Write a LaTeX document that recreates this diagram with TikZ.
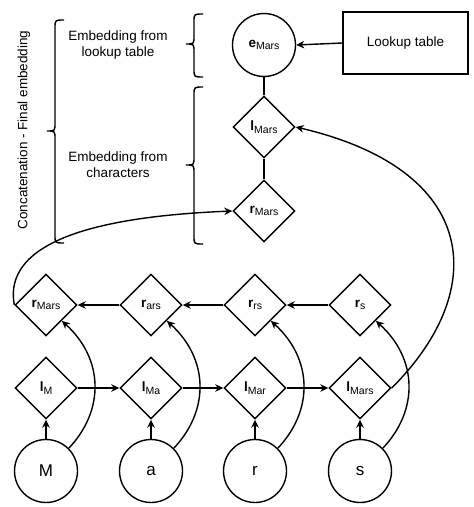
\documentclass[tikz,border=0pt]{standalone}
\usepackage{fontspec}
\setmainfont{Liberation Sans}
\usetikzlibrary{shapes.geometric,arrows.meta}
\newcommand{\lbl}[2]{{\fontsize{13.5bp}{15bp}\selectfont\bfseries #1}{\raisebox{-0.45ex}{\fontsize{10.5bp}{12bp}\selectfont #2}}}
\tikzset{
  ln/.style={line width=1.4bp},
  arr/.style={ln,-{Stealth[length=8bp,width=7.5bp,inset=2.5bp]}},
  dia/.style={ln,draw,diamond,aspect=1,minimum width=62bp,minimum height=62bp,inner sep=0pt},
  circ/.style={ln,draw,circle,minimum size=63bp,inner sep=0pt},
  txt/.style={font=\fontsize{13.5bp}{16bp}\selectfont,align=center},
  chr/.style={circ,font=\fontsize{17bp}{19bp}\selectfont},
}
\begin{document}
\begin{tikzpicture}[x=1bp,y=-1bp]
\useasboundingbox (0,0) rectangle (474,507);
% top column
\node[circ] (e) at (264,45) {\lbl{e}{Mars}};
\node[ln,draw,minimum width=125bp,minimum height=62bp,txt] (lt) at (405.5,43) {Lookup table};
\node[dia] (lt2) at (264,127) {\lbl{l}{Mars}};
\node[dia] (rt2) at (264,211) {\lbl{r}{Mars}};
\draw[arr] (lt.west) -- (e.east);
\draw[ln] (e.south) -- (lt2.north);
\draw[ln] (lt2.south) -- (rt2.north);
% labels
\node[txt] (t1) at (118,45) {Embedding from\\lookup table};
\node[txt] (t2) at (118,165) {Embedding from\\characters};
\node[txt,rotate=90] (t3) at (24,130) {Concatenation - Final embedding};
% braces
\newcommand{\mybrace}[4]{\draw[ln] (#1+9,#2) .. controls (#1,#2) .. (#1,#2+8) -- (#1,#4-8) .. controls (#1,#4) .. (#1-8,#4) .. controls (#1,#4) .. (#1,#4+8) -- (#1,#3-8) .. controls (#1,#3) .. (#1+9,#3);}
\mybrace{55}{20}{243}{131}
\mybrace{194}{14}{77}{44}
\mybrace{194}{87}{244}{165}
% r row
\node[dia] (r1) at (46,305) {\lbl{r}{Mars}};
\node[dia] (r2) at (151,305) {\lbl{r}{ars}};
\node[dia] (r3) at (255,305) {\lbl{r}{rs}};
\node[dia] (r4) at (360,305) {\lbl{r}{s}};
% l row
\node[dia] (l1) at (46,388) {\lbl{l}{M}};
\node[dia] (l2) at (151,388) {\lbl{l}{Ma}};
\node[dia] (l3) at (255,388) {\lbl{l}{Mar}};
\node[dia] (l4) at (360,388) {\lbl{l}{Mars}};
% chars
\node[chr] (c1) at (46,471) {M};
\node[chr] (c2) at (151,471) {a};
\node[chr] (c3) at (255,471) {r};
\node[chr] (c4) at (360,471) {s};
\foreach \i in {1,2,3,4} {
  \draw[arr] (c\i.north) -- (l\i.south);
}
\draw[arr] (l1.east) -- (l2.west);
\draw[arr] (l2.east) -- (l3.west);
\draw[arr] (l3.east) -- (l4.west);
\draw[arr] (r4.west) -- (r3.east);
\draw[arr] (r3.west) -- (r2.east);
\draw[arr] (r2.west) -- (r1.east);
\foreach \i in {1,2,3,4} {
  \draw[arr] (c\i.45) .. controls ([shift={(36,-38)}]c\i.45) and ([shift={(42,38)}]r\i.south east) .. (r\i.south east);
}
\draw[arr] (l4.east) .. controls (490,290) and (480,170) .. (lt2.east);
\draw[arr] (r1.west) .. controls (5,255) and (60,218) .. (rt2.west);
\end{tikzpicture}
\end{document}
